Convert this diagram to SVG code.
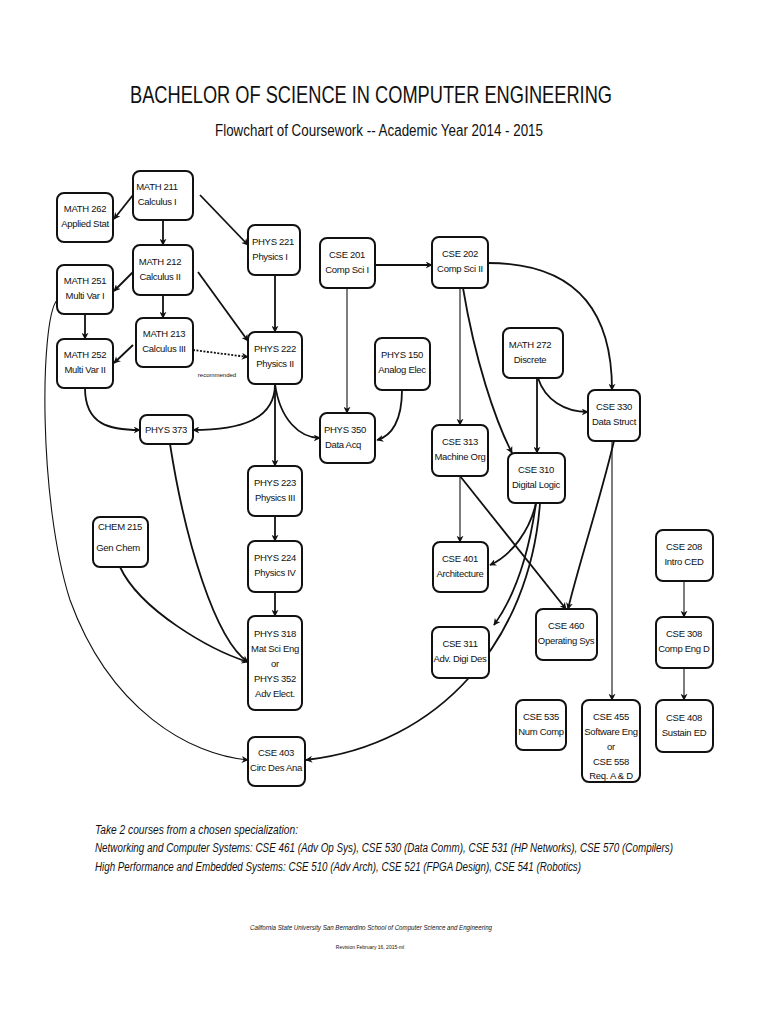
<svg xmlns="http://www.w3.org/2000/svg" width="768" height="1024" viewBox="0 0 768 1024">
<style>
.n rect{fill:#fff;stroke:#111;stroke-width:2}
.n text{font-family:"Liberation Sans",Arial,sans-serif;font-size:9.5px;letter-spacing:-0.3px;fill:#111;text-anchor:middle}
.e path{fill:none;stroke:#111;stroke-width:1.8;marker-end:url(#a)}
.e path.t{stroke-width:1.1}
.e path.d{stroke-dasharray:2,1.5;stroke-width:1.8}
.h{font-family:"Liberation Sans",Arial,sans-serif;fill:#111}
</style>
<defs>
<marker id="a" viewBox="0 0 10 10" refX="9" refY="5" markerWidth="7" markerHeight="7" orient="auto" markerUnits="userSpaceOnUse" >
<path d="M0,0 L10,5 L0,10 L3,5 Z" fill="#111"/>
</marker>
</defs>
<rect width="768" height="1024" fill="#fff"/>
<text class="h" x="371" y="103" font-size="24" text-anchor="middle" textLength="482" lengthAdjust="spacingAndGlyphs">BACHELOR OF SCIENCE IN COMPUTER ENGINEERING</text>
<text class="h" x="379" y="136" font-size="16" text-anchor="middle" textLength="328" lengthAdjust="spacingAndGlyphs">Flowchart of Coursework -- Academic Year 2014 - 2015</text>

<g class="e" id="connectors">
<path d="M133,195 L114,219"/>
<path d="M163,220 L163,245"/>
<path d="M200,195 L248,245"/>
<path d="M133,272 L114,291"/>
<path d="M163,295 L163,318"/>
<path d="M198,272 L248,341"/>
<path d="M85,314 L85,339"/>
<path d="M133,345 L114,363"/>
<path class="d" d="M193,350 L248,357"/>
<path d="M275,275 L275,332"/>
<path d="M85,388 C85,425 110,430 140,430"/>
<path d="M275,384 C275,420 240,430 193,430"/>
<path d="M275,384 L275,466"/>
<path d="M275,384 C280,420 300,438 320,438"/>
<path class="t" d="M347,288 L347,413"/>
<path d="M402,390 C402,420 392,436 377,440"/>
<path d="M375,265 L432,265"/>
<path class="t" d="M460,288 L460,425"/>
<path d="M463,288 C475,360 495,420 512,453"/>
<path d="M488,263 C565,263 612,300 612,390"/>
<path d="M537,378 L537,453"/>
<path d="M538,378 C545,400 565,412 588,412"/>
<path class="t" d="M460,476 L460,542"/>
<path d="M460,476 L566,609"/>
<path d="M536,503 C530,530 512,555 490,565"/>
<path d="M536,503 C528,560 512,600 494,625"/>
<path d="M540,503 C530,640 440,745 306,760"/>
<path d="M614,441 C600,500 580,560 568,609"/>
<path class="t" d="M612,441 L612,700"/>
<path class="t" d="M684,581 L684,617"/>
<path class="t" d="M684,668 L684,700"/>
<path d="M275,516 L275,541"/>
<path d="M275,592 L275,616"/>
<path d="M170,444 C185,540 215,640 248,662"/>
<path d="M120,567 C140,610 210,650 248,662"/>
<path class="t" d="M57,300 C40,320 38,500 70,600 C110,710 190,755 248,760"/>
</g>
<text class="h" x="217" y="377" font-size="6" text-anchor="middle">recommended</text>

<g class="n" id="math211"><rect x="133" y="171" width="60" height="49" rx="7"/><text x="157" y="190">MATH 211</text><text x="157" y="205">Calculus I</text></g>
<g class="n" id="math262"><rect x="57" y="193" width="56" height="49" rx="7"/><text x="85" y="212">MATH 262</text><text x="85" y="227">Applied Stat</text></g>
<g class="n" id="math212"><rect x="133" y="245" width="60" height="50" rx="7"/><text x="160" y="265">MATH 212</text><text x="160" y="280">Calculus II</text></g>
<g class="n" id="math251"><rect x="57" y="265" width="56" height="49" rx="7"/><text x="85" y="284">MATH 251</text><text x="85" y="299">Multi Var I</text></g>
<g class="n" id="math213"><rect x="136" y="318" width="57" height="49" rx="7"/><text x="164" y="337">MATH 213</text><text x="164" y="352">Calculus III</text></g>
<g class="n" id="math252"><rect x="57" y="339" width="56" height="49" rx="7"/><text x="85" y="358">MATH 252</text><text x="85" y="373">Multi Var II</text></g>
<g class="n" id="phys221"><rect x="248" y="225" width="52" height="50" rx="7"/><text x="273" y="245">PHYS 221</text><text x="270" y="260">Physics I</text></g>
<g class="n" id="phys222"><rect x="248" y="332" width="54" height="52" rx="7"/><text x="275" y="352">PHYS 222</text><text x="275" y="367">Physics II</text></g>
<g class="n" id="cse201"><rect x="320" y="238" width="55" height="50" rx="7"/><text x="347" y="258">CSE 201</text><text x="347" y="273">Comp Sci I</text></g>
<g class="n" id="phys150"><rect x="375" y="338" width="55" height="52" rx="7"/><text x="402" y="358">PHYS 150</text><text x="402" y="373">Analog Elec</text></g>
<g class="n" id="phys373"><rect x="140" y="415" width="53" height="29" rx="7"/><text x="166" y="433">PHYS 373</text></g>
<g class="n" id="phys350"><rect x="320" y="413" width="55" height="50" rx="7"/><text x="345" y="433">PHYS 350</text><text x="343" y="448">Data Acq</text></g>
<g class="n" id="cse202"><rect x="432" y="237" width="56" height="51" rx="7"/><text x="460" y="257">CSE 202</text><text x="460" y="272">Comp Sci II</text></g>
<g class="n" id="math272"><rect x="503" y="328" width="60" height="50" rx="7"/><text x="530" y="348">MATH 272</text><text x="530" y="363">Discrete</text></g>
<g class="n" id="cse313"><rect x="432" y="425" width="56" height="51" rx="7"/><text x="460" y="445">CSE 313</text><text x="460" y="460">Machine Org</text></g>
<g class="n" id="cse310"><rect x="508" y="453" width="57" height="50" rx="7"/><text x="536" y="473">CSE 310</text><text x="536" y="488">Digital Logic</text></g>
<g class="n" id="cse330"><rect x="588" y="390" width="52" height="51" rx="7"/><text x="614" y="410">CSE 330</text><text x="614" y="425">Data Struct</text></g>
<g class="n" id="phys223"><rect x="248" y="466" width="54" height="50" rx="7"/><text x="275" y="486">PHYS 223</text><text x="275" y="501">Physics III</text></g>
<g class="n" id="chem215"><rect x="93" y="517" width="55" height="50" rx="7"/><text x="120" y="530">CHEM 215</text><text x="118" y="551">Gen Chem</text></g>
<g class="n" id="phys224"><rect x="248" y="541" width="54" height="51" rx="7"/><text x="275" y="561">PHYS 224</text><text x="275" y="576">Physics IV</text></g>
<g class="n" id="phys318"><rect x="248" y="616" width="54" height="94" rx="7"/><text x="275" y="637">PHYS 318</text><text x="275" y="652">Mat Sci Eng</text><text x="275" y="667">or</text><text x="275" y="682">PHYS 352</text><text x="275" y="697">Adv Elect.</text></g>
<g class="n" id="cse401"><rect x="433" y="542" width="55" height="50" rx="7"/><text x="460" y="562">CSE 401</text><text x="460" y="577">Architecture</text></g>
<g class="n" id="cse208"><rect x="656" y="530" width="57" height="51" rx="7"/><text x="684" y="550">CSE 208</text><text x="684" y="565">Intro CED</text></g>
<g class="n" id="cse460"><rect x="536" y="609" width="61" height="51" rx="7"/><text x="566" y="629">CSE 460</text><text x="566" y="644">Operating Sys</text></g>
<g class="n" id="cse311"><rect x="432" y="627" width="57" height="51" rx="7"/><text x="460" y="647">CSE 311</text><text x="460" y="662">Adv. Digi Des</text></g>
<g class="n" id="cse308"><rect x="656" y="617" width="57" height="51" rx="7"/><text x="684" y="637">CSE 308</text><text x="684" y="652">Comp Eng D</text></g>
<g class="n" id="cse535"><rect x="516" y="700" width="50" height="50" rx="7"/><text x="541" y="720">CSE 535</text><text x="541" y="735">Num Comp</text></g>
<g class="n" id="cse455"><rect x="582" y="700" width="58" height="82" rx="7"/><text x="611" y="720">CSE 455</text><text x="611" y="735">Software Eng</text><text x="611" y="750">or</text><text x="611" y="765">CSE 558</text><text x="611" y="779">Req. A &amp; D</text></g>
<g class="n" id="cse408"><rect x="656" y="700" width="57" height="52" rx="7"/><text x="684" y="721">CSE 408</text><text x="684" y="736">Sustain ED</text></g>
<g class="n" id="cse403"><rect x="248" y="737" width="57" height="49" rx="7"/><text x="276" y="756">CSE 403</text><text x="276" y="771">Circ Des Ana</text></g>

<g class="h" font-size="12" font-style="italic">
<text x="95" y="834" textLength="203" lengthAdjust="spacingAndGlyphs">Take 2 courses from a chosen specialization:</text>
<text x="95" y="852" textLength="578" lengthAdjust="spacingAndGlyphs">Networking and Computer Systems: CSE 461 (Adv Op Sys), CSE 530 (Data Comm), CSE 531 (HP Networks), CSE 570 (Compilers)</text>
<text x="95" y="871" textLength="486" lengthAdjust="spacingAndGlyphs">High Performance and Embedded Systems: CSE 510 (Adv Arch), CSE 521 (FPGA Design), CSE 541 (Robotics)</text>
</g>
<text class="h" x="371" y="930" font-size="7" font-style="italic" text-anchor="middle" textLength="242" lengthAdjust="spacingAndGlyphs">California State University San Bernardino School of Computer Science and Engineering</text>
<text class="h" x="370" y="949" font-size="5" text-anchor="middle">Revision February 16, 2015-ml</text>
</svg>
